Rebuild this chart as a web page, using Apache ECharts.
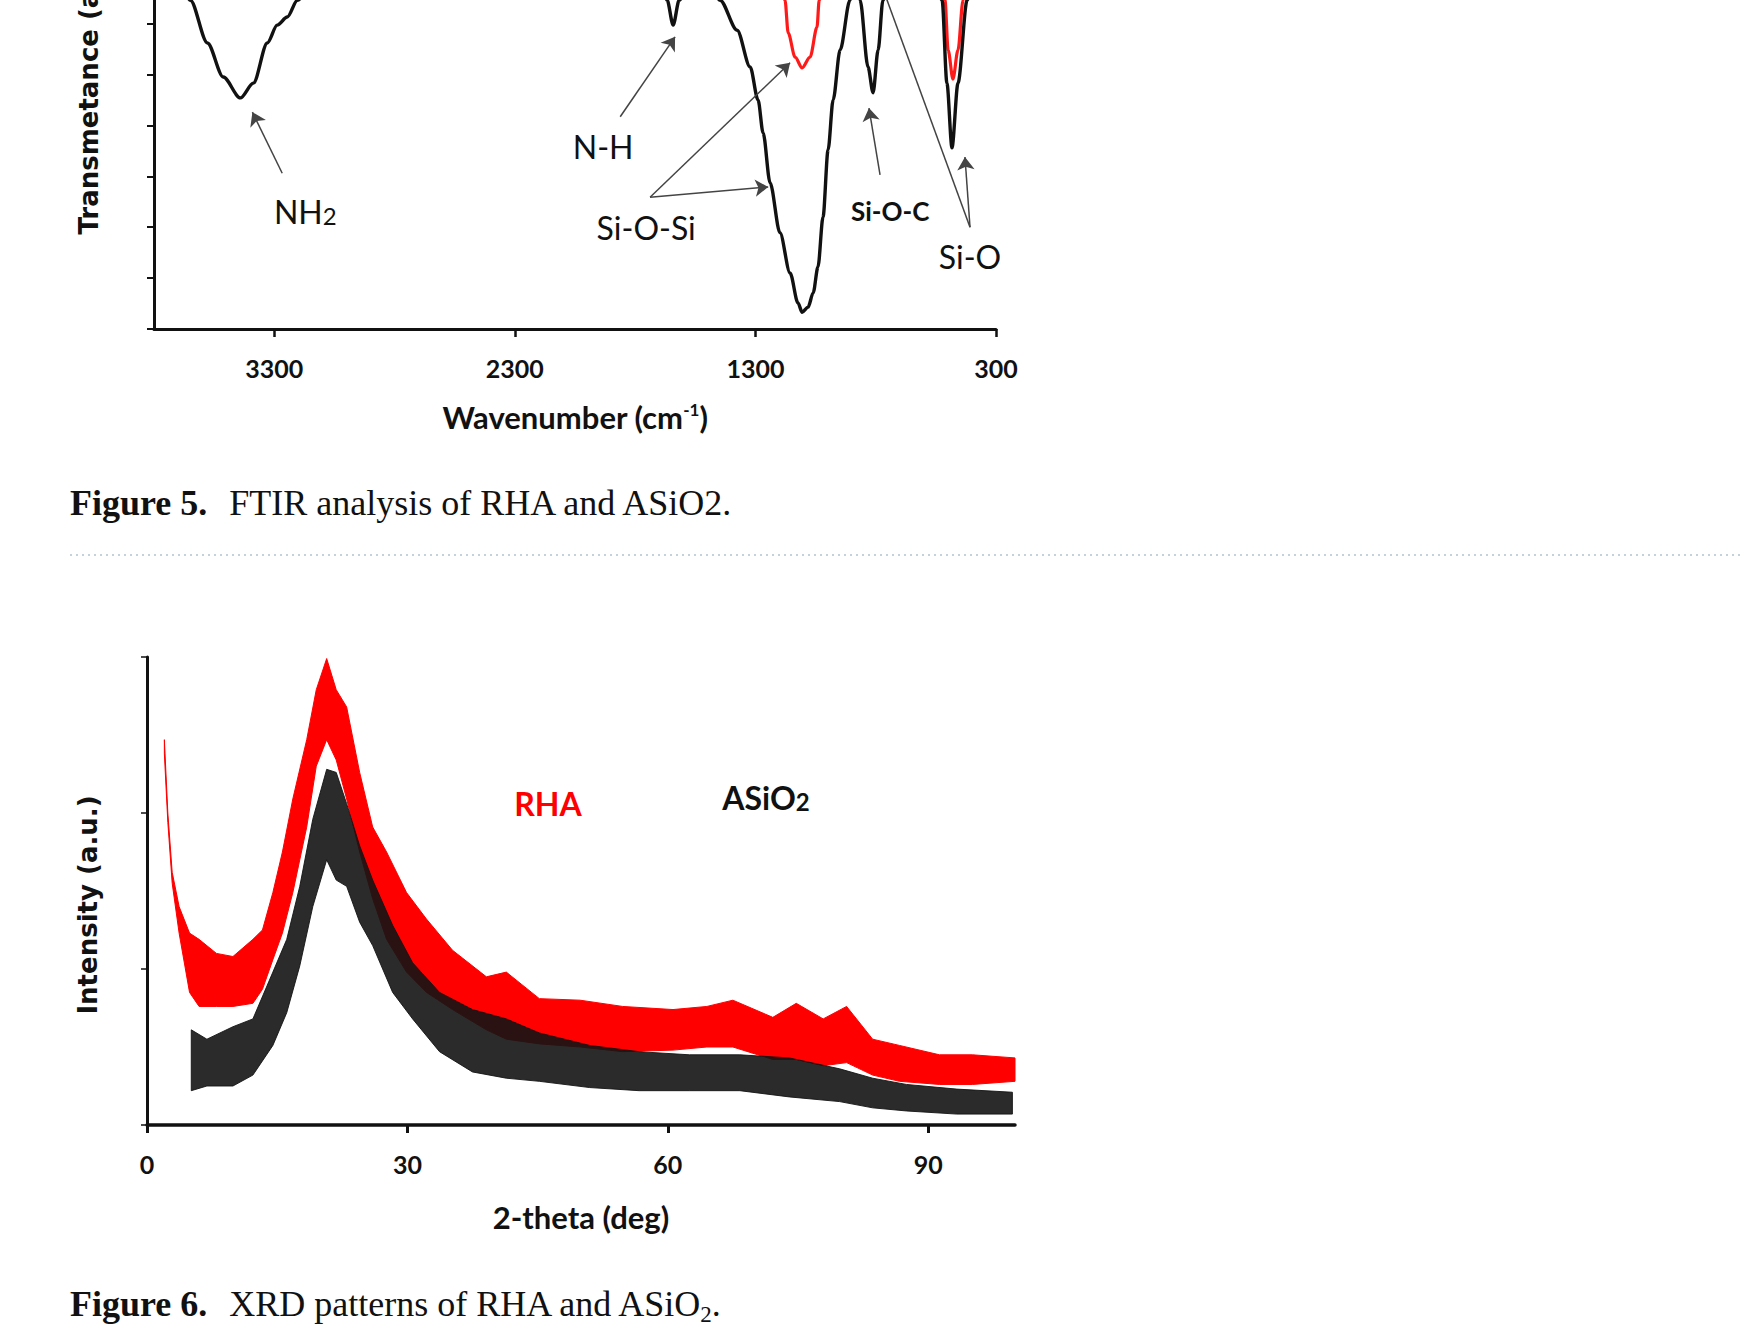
<!DOCTYPE html>
<html>
<head>
<meta charset="utf-8">
<script src="https://cdn.jsdelivr.net/npm/echarts@6/dist/echarts.min.js"></script>
<style>
  html, body { margin: 0; padding: 0; background: #fff; width: 1741px; height: 1327px; overflow: hidden; }
  #xrd { position: absolute; left: 0; top: 0; width: 1741px; height: 1327px; }
  /* the FTIR figure is scrolled partly out of view at the top of the page */
  #ftir { position: absolute; left: 0; top: -260px; width: 1741px; height: 720px; }
  .caption { position: absolute; left: 70px; font-family: "Liberation Serif", serif; font-size: 36px; line-height: 36px; color: #111; white-space: nowrap; }
  .caption b { margin-right: 22px; }
  .caption sub { font-size: 23px; line-height: 0; vertical-align: -6px; }
  #sep { position: absolute; left: 70px; right: 0; top: 554px; height: 2px;
         background-image: repeating-linear-gradient(to right, #c4d2db 0 2px, transparent 2px 6px); }
</style>
</head>
<body>
<div id="xrd"></div>
<div id="ftir"></div>
<div class="caption" style="top:485px"><b>Figure 5.</b>FTIR analysis of RHA and ASiO2.</div>
<div id="sep"></div>
<div class="caption" style="top:1286px"><b>Figure 6.</b>XRD patterns of RHA and ASiO<sub>2</sub>.</div>
<script>
// ---- FTIR (Figure 5) : wavenumber (cm-1) / transmittance (a.u.) ----
var ftirWnASiO2 = [3800, 3720, 3649, 3578, 3512, 3441, 3387, 3329, 3288, 3246, 3204, 3100, 2900, 2500, 2100, 1800, 1700,
                   1667, 1642, 1617, 1560, 1500, 1447, 1376, 1322, 1289, 1268, 1239, 1198, 1156, 1123, 1106, 1081, 1060,
                   1040, 1019, 998, 977, 948, 907, 880, 865, 832, 811, 790, 770, 720, 650, 580, 524, 504, 483, 458, 420, 380, 300];
var ftirTASiO2 = [8.4, 7.3, 6.46, 5.62, 4.95, 4.54, 4.83, 5.62, 5.97, 6.13, 6.46, 7.2, 7.8, 8.0, 8.0, 7.6, 7.0,
                  6.46, 5.97, 6.46, 7.0, 6.9, 6.46, 5.87, 5.15, 4.50, 3.85, 2.87, 1.89, 1.10, 0.51, 0.33, 0.43, 0.71,
                  1.22, 2.20, 3.52, 4.50, 5.48, 6.46, 7.3, 6.46, 5.15, 4.64, 5.48, 6.46, 7.4, 7.6, 7.4, 6.46, 4.83, 3.56, 4.83, 6.46, 7.2, 7.5];
var ftirWnRHA = [3800, 3400, 3000, 2500, 2000, 1700, 1500, 1300, 1230, 1177, 1164, 1135, 1106, 1073, 1044, 1035, 980,
                 880, 830, 780, 700, 600, 540, 512, 499, 479, 458, 437, 400, 300];
var ftirTRHA = [9.0, 8.5, 8.8, 9.0, 9.0, 8.8, 8.7, 8.2, 7.6, 6.46, 5.82, 5.34, 5.13, 5.34, 5.93, 6.46, 7.6,
                8.2, 7.4, 8.0, 8.3, 8.2, 7.4, 6.46, 5.48, 4.91, 5.48, 6.46, 7.6, 8.2];
var ftirTicks = [300, 1300, 2300, 3300];

// band labels and their arrows, in data units [wavenumber, transmittance]
var bandNames = ['NH{s|2}', 'N-H', 'Si-O-Si', 'Si-O-C', 'Si-O'];
var bandLabelAt = [[3171, 2.30], [1933, 3.58], [1754, 2.00], [740, 2.32], [408, 1.43]];
var bandArrows = [
  [[3267, 3.06], [3391, 4.26]],
  [[1862, 4.17], [1634, 5.74]],
  [[1738, 2.59], [1156, 5.23]],
  [[1738, 2.59], [1247, 2.79]],
  [[782, 3.03], [828, 4.34]],
  [[408, 2.00], [429, 3.38]],
  [[408, 2.00], [844, 7.64]]
];

// ---- XRD (Figure 6) : 2-theta (deg) / intensity (a.u.), noisy traces read as lower/upper envelopes ----
var xrdThetaRHA = [2.0, 2.4, 2.9, 3.7, 4.9, 6.0, 8.0, 9.9, 12.2, 13.3, 14.5, 15.6, 16.8, 18.4, 19.5, 20.7, 21.8, 23.0, 24.5,
                   26.0, 27.6, 29.9, 32.2, 35.2, 39.1, 41.4, 45.2, 49.9, 54.8, 60.6, 64.5, 67.5, 72.1, 74.8, 77.9, 80.6,
                   83.6, 86.7, 91.3, 95.1, 100];
var xrdHiRHA = [2.47, 2.00, 1.62, 1.40, 1.23, 1.19, 1.10, 1.08, 1.19, 1.25, 1.49, 1.75, 2.09, 2.47, 2.79, 2.99, 2.79, 2.68, 2.26,
                1.91, 1.75, 1.49, 1.32, 1.12, 0.95, 0.98, 0.81, 0.80, 0.76, 0.74, 0.76, 0.80, 0.69, 0.78, 0.68, 0.76,
                0.55, 0.51, 0.45, 0.45, 0.43];
var xrdLoRHA = [2.38, 1.94, 1.55, 1.23, 0.85, 0.76, 0.76, 0.76, 0.78, 0.87, 1.06, 1.23, 1.49, 1.91, 2.30, 2.47, 2.34, 2.09, 1.75,
                1.45, 1.19, 0.98, 0.85, 0.74, 0.61, 0.55, 0.52, 0.50, 0.47, 0.48, 0.50, 0.50, 0.42, 0.42, 0.38, 0.40,
                0.32, 0.28, 0.26, 0.26, 0.28];
var xrdThetaASiO2 = [5.1, 6.9, 9.9, 12.2, 14.5, 16.1, 17.6, 19.1, 20.7, 21.8, 23.0, 24.5, 26.0, 28.3, 30.6, 33.7, 37.5, 41.4,
                     45.2, 51.0, 56.7, 62.5, 68.3, 74.0, 79.8, 83.6, 87.5, 93.3, 99.7];
var xrdHiASiO2 = [0.61, 0.55, 0.63, 0.68, 0.98, 1.19, 1.53, 1.96, 2.28, 2.26, 2.06, 1.79, 1.57, 1.28, 1.04, 0.85, 0.74, 0.68,
                  0.59, 0.51, 0.47, 0.45, 0.45, 0.43, 0.36, 0.30, 0.26, 0.23, 0.21];
var xrdLoASiO2 = [0.22, 0.25, 0.25, 0.32, 0.51, 0.72, 1.02, 1.40, 1.70, 1.57, 1.53, 1.30, 1.15, 0.85, 0.68, 0.47, 0.34, 0.30,
                  0.28, 0.24, 0.22, 0.22, 0.22, 0.18, 0.15, 0.11, 0.09, 0.07, 0.07];
var xrdTicks = [0, 30, 60, 90];

function pairs(xs, ys) {
  return xs.map(function (x, i) { return [x, ys[i]]; });
}

// filled band between lower and upper envelope, drawn once through the axis scales
function bandSeries(name, xs, lo, hi, color) {
  return {
    name: name,
    type: 'custom',
    coordinateSystem: 'cartesian2d',
    silent: true,
    encode: { x: 0, y: [1, 2] },
    data: xs.map(function (x, i) { return [x, lo[i], hi[i]]; }),
    renderItem: function (params, api) {
      if (params.dataIndex !== 0) return null;
      var pts = [];
      for (var i = 0; i < xs.length; i++) pts.push(api.coord([xs[i], hi[i]]));
      for (var j = xs.length - 1; j >= 0; j--) pts.push(api.coord([xs[j], lo[j]]));
      return {
        type: 'polygon',
        shape: { points: pts },
        style: { fill: color, stroke: color, lineWidth: 1 }
      };
    }
  };
}

var tickFont = { fontFamily: 'Lato', fontWeight: 'bold', fontSize: 25, color: '#111' };
var nameFont = { fontFamily: 'Lato', fontWeight: 'bold', fontSize: 31, color: '#111' };
var yNameFont = { fontFamily: 'DejaVu Sans', fontWeight: 'bold', fontSize: 26, color: '#111' };
var plain = function (v) { return String(v); };

// ---------- Figure 5 ----------
var ftir = echarts.init(document.getElementById('ftir'), null, { renderer: 'svg' });
ftir.setOption({
  animation: false,
  grid: { left: 154, top: 80, width: 842, height: 509 },
  xAxis: {
    type: 'value', min: 300, max: 3800, interval: 1000, inverse: true,
    name: 'Wavenumber (cm{sup|-1})', nameLocation: 'middle', nameGap: 72,
    nameTextStyle: Object.assign({}, nameFont, { rich: { sup: { fontFamily: 'Lato', fontWeight: 'bold', fontSize: 17, lineHeight: 18, verticalAlign: 'top', color: '#111' } } }),
    axisLine: { onZero: false, lineStyle: { color: '#111', width: 3 } },
    axisTick: { length: 8, lineStyle: { width: 2.5, color: '#111' }, customValues: ftirTicks },
    axisLabel: Object.assign({ margin: 26, customValues: ftirTicks, formatter: plain }, tickFont),
    splitLine: { show: false }
  },
  yAxis: {
    type: 'value', min: 0, max: 10, interval: 1,
    name: 'Transmetance (a.u.)', nameLocation: 'middle', nameGap: 52,
    nameTextStyle: Object.assign({}, yNameFont, { padding: [0, 26, 0, 0] }),
    axisLine: { onZero: false, lineStyle: { color: '#111', width: 3 } },
    axisTick: { length: 7, lineStyle: { width: 2, color: '#111' } },
    axisLabel: { show: false },
    splitLine: { show: false }
  },
  series: [
    {
      name: 'RHA', type: 'line',
      data: pairs(ftirWnRHA, ftirTRHA),
      showSymbol: false, smooth: 0.3, smoothMonotone: 'x',
      lineStyle: { color: '#ff1a1a', width: 3.2 }
    },
    {
      name: 'ASiO2', type: 'line',
      data: pairs(ftirWnASiO2, ftirTASiO2),
      showSymbol: false, smooth: 0.3, smoothMonotone: 'x',
      lineStyle: { color: '#111', width: 3.4 },
      markLine: {
        silent: true, animation: false,
        symbol: ['none', 'arrow'], symbolSize: 13,
        label: { show: false },
        lineStyle: { color: '#444', width: 1.5, type: 'solid' },
        data: bandArrows.map(function (a) { return [{ coord: a[0] }, { coord: a[1] }]; })
      },
      markPoint: {
        silent: true, animation: false,
        symbol: 'circle', symbolSize: 1,
        itemStyle: { color: 'rgba(0,0,0,0)' },
        data: bandNames.map(function (n, i) {
          var bold = n === 'Si-O-C';
          return {
            coord: bandLabelAt[i],
            label: {
              show: true, position: 'inside', formatter: n,
              fontFamily: 'Lato', fontWeight: bold ? 'bold' : 'normal', fontSize: bold ? 26 : 32, color: '#111',
              rich: { s: { fontFamily: 'Lato', fontSize: 24, color: '#111', verticalAlign: 'bottom', lineHeight: 30 } }
            }
          };
        })
      }
    }
  ]
});

// ---------- Figure 6 ----------
var xrd = echarts.init(document.getElementById('xrd'), null, { renderer: 'svg' });
xrd.setOption({
  animation: false,
  grid: { left: 147, top: 657, width: 868, height: 468 },
  xAxis: {
    type: 'value', min: 0, max: 100, interval: 30,
    name: '2-theta (deg)', nameLocation: 'middle', nameGap: 76, nameTextStyle: nameFont,
    axisLine: { onZero: false, lineStyle: { color: '#111', width: 3.5 } },
    axisTick: { length: 8, lineStyle: { width: 3, color: '#111' }, customValues: xrdTicks },
    axisLabel: Object.assign({ margin: 26, customValues: xrdTicks, formatter: plain }, tickFont),
    splitLine: { show: false }
  },
  yAxis: {
    type: 'value', min: 0, max: 3, interval: 1,
    name: 'Intensity (a.u.)', nameLocation: 'middle', nameGap: 46,
    nameTextStyle: Object.assign({}, yNameFont, { padding: [0, 28, 0, 0] }),
    axisLine: { onZero: false, lineStyle: { color: '#111', width: 3 } },
    axisTick: { length: 6, lineStyle: { width: 1.5, color: '#111' } },
    axisLabel: { show: false },
    splitLine: { show: false }
  },
  series: [
    bandSeries('RHA', xrdThetaRHA, xrdLoRHA, xrdHiRHA, '#ff0000'),
    bandSeries('ASiO2', xrdThetaASiO2, xrdLoASiO2, xrdHiASiO2, 'rgba(20,20,20,0.9)')
  ],
  graphic: [
    { type: 'text', style: { x: 548, y: 803, text: 'RHA', align: 'center', verticalAlign: 'middle',
      font: 'bold 32px Lato', fill: '#ff0000' } },
    { type: 'text', style: { x: 766, y: 797, text: 'ASiO{s|2}', align: 'center', verticalAlign: 'middle',
      font: 'bold 32px Lato', fill: '#111',
      rich: { s: { font: 'bold 24px Lato', fill: '#111', verticalAlign: 'bottom', lineHeight: 30 } } } }
  ]
});
</script>
</body>
</html>
